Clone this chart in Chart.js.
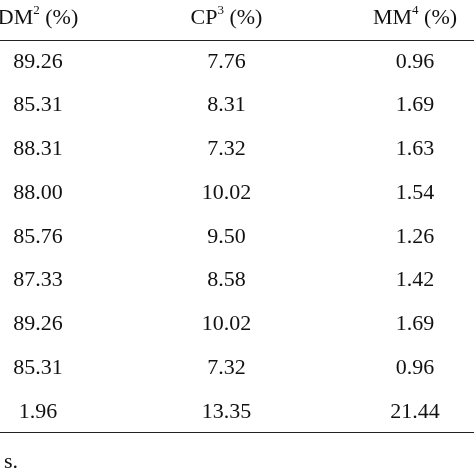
<!DOCTYPE html>
<html><head><meta charset="utf-8">
<script src="https://cdn.jsdelivr.net/npm/chart.js@4"></script>
<style>html,body{margin:0;padding:0;background:#fff}#w{width:474px;height:474px}</style>
</head><body><div id="w"><canvas id="c"></canvas></div>
<script>
const headers = [["DM","2"," (%)"],["CP","3"," (%)"],["MM","4"," (%)"]];
const colDM = ["89.26","85.31","88.31","88.00","85.76","87.33","89.26","85.31","1.96"];
const colCP = ["7.76","8.31","7.32","10.02","9.50","8.58","10.02","7.32","13.35"];
const colMM = ["0.96","1.69","1.63","1.54","1.26","1.42","1.69","0.96","21.44"];
const footnote = "s.";
const cols = [colDM, colCP, colMM];
const pts = [];
cols.forEach((c,i)=>c.forEach((v,j)=>pts.push({x:i,y:j+1,t:v})));
const FONT = '"Liberation Serif", "DejaVu Serif", serif';
const tablePlugin = {
  id:'tbl',
  afterDatasetsDraw(chart){
    const ctx=chart.ctx, xs=chart.scales.x, ys=chart.scales.y;
    ctx.save();
    ctx.fillStyle='#111'; ctx.textBaseline='middle';
    ctx.font='22px '+FONT; ctx.textAlign='center';
    chart.data.datasets[0].data.forEach(p=>{
      ctx.fillText(p.t, xs.getPixelForValue(p.x), ys.getPixelForValue(p.y));
    });
    headers.forEach((h,i)=>{
      ctx.font='22px '+FONT; const w1=ctx.measureText(h[0]).width, w3=ctx.measureText(h[2]).width;
      ctx.font='13px '+FONT; const w2=ctx.measureText(h[1]).width;
      const tot=w1+w2+w3; let x=xs.getPixelForValue(i)-tot/2; const y=ys.getPixelForValue(0);
      ctx.textAlign='left';
      ctx.font='22px '+FONT; ctx.fillText(h[0],x,y); x+=w1;
      ctx.font='13px '+FONT; ctx.fillText(h[1],x,y-7); x+=w2;
      ctx.font='22px '+FONT; ctx.fillText(h[2],x,y);
    });
    ctx.strokeStyle='#222'; ctx.lineWidth=1.2;
    [0.5,9.46].forEach(v=>{const y=Math.round(ys.getPixelForValue(v))+0.5;ctx.beginPath();ctx.moveTo(0,y);ctx.lineTo(474,y);ctx.stroke();});
    ctx.font='22px '+FONT; ctx.textAlign='left';
    ctx.fillText(footnote, 4, ys.getPixelForValue(10.14));
    ctx.restore();
  }
};
new Chart(document.getElementById('c'),{
  type:'scatter',
  data:{datasets:[{data:pts,pointRadius:0}]},
  options:{responsive:true,maintainAspectRatio:false,animation:false,
    layout:{padding:0},
    plugins:{legend:{display:false},tooltip:{enabled:false}},
    scales:{
      x:{type:'linear',display:false,min:-0.2016,max:2.313},
      y:{type:'linear',display:false,reverse:true,min:-0.411,max:10.416}
    }},
  plugins:[tablePlugin]
});
</script></body></html>
